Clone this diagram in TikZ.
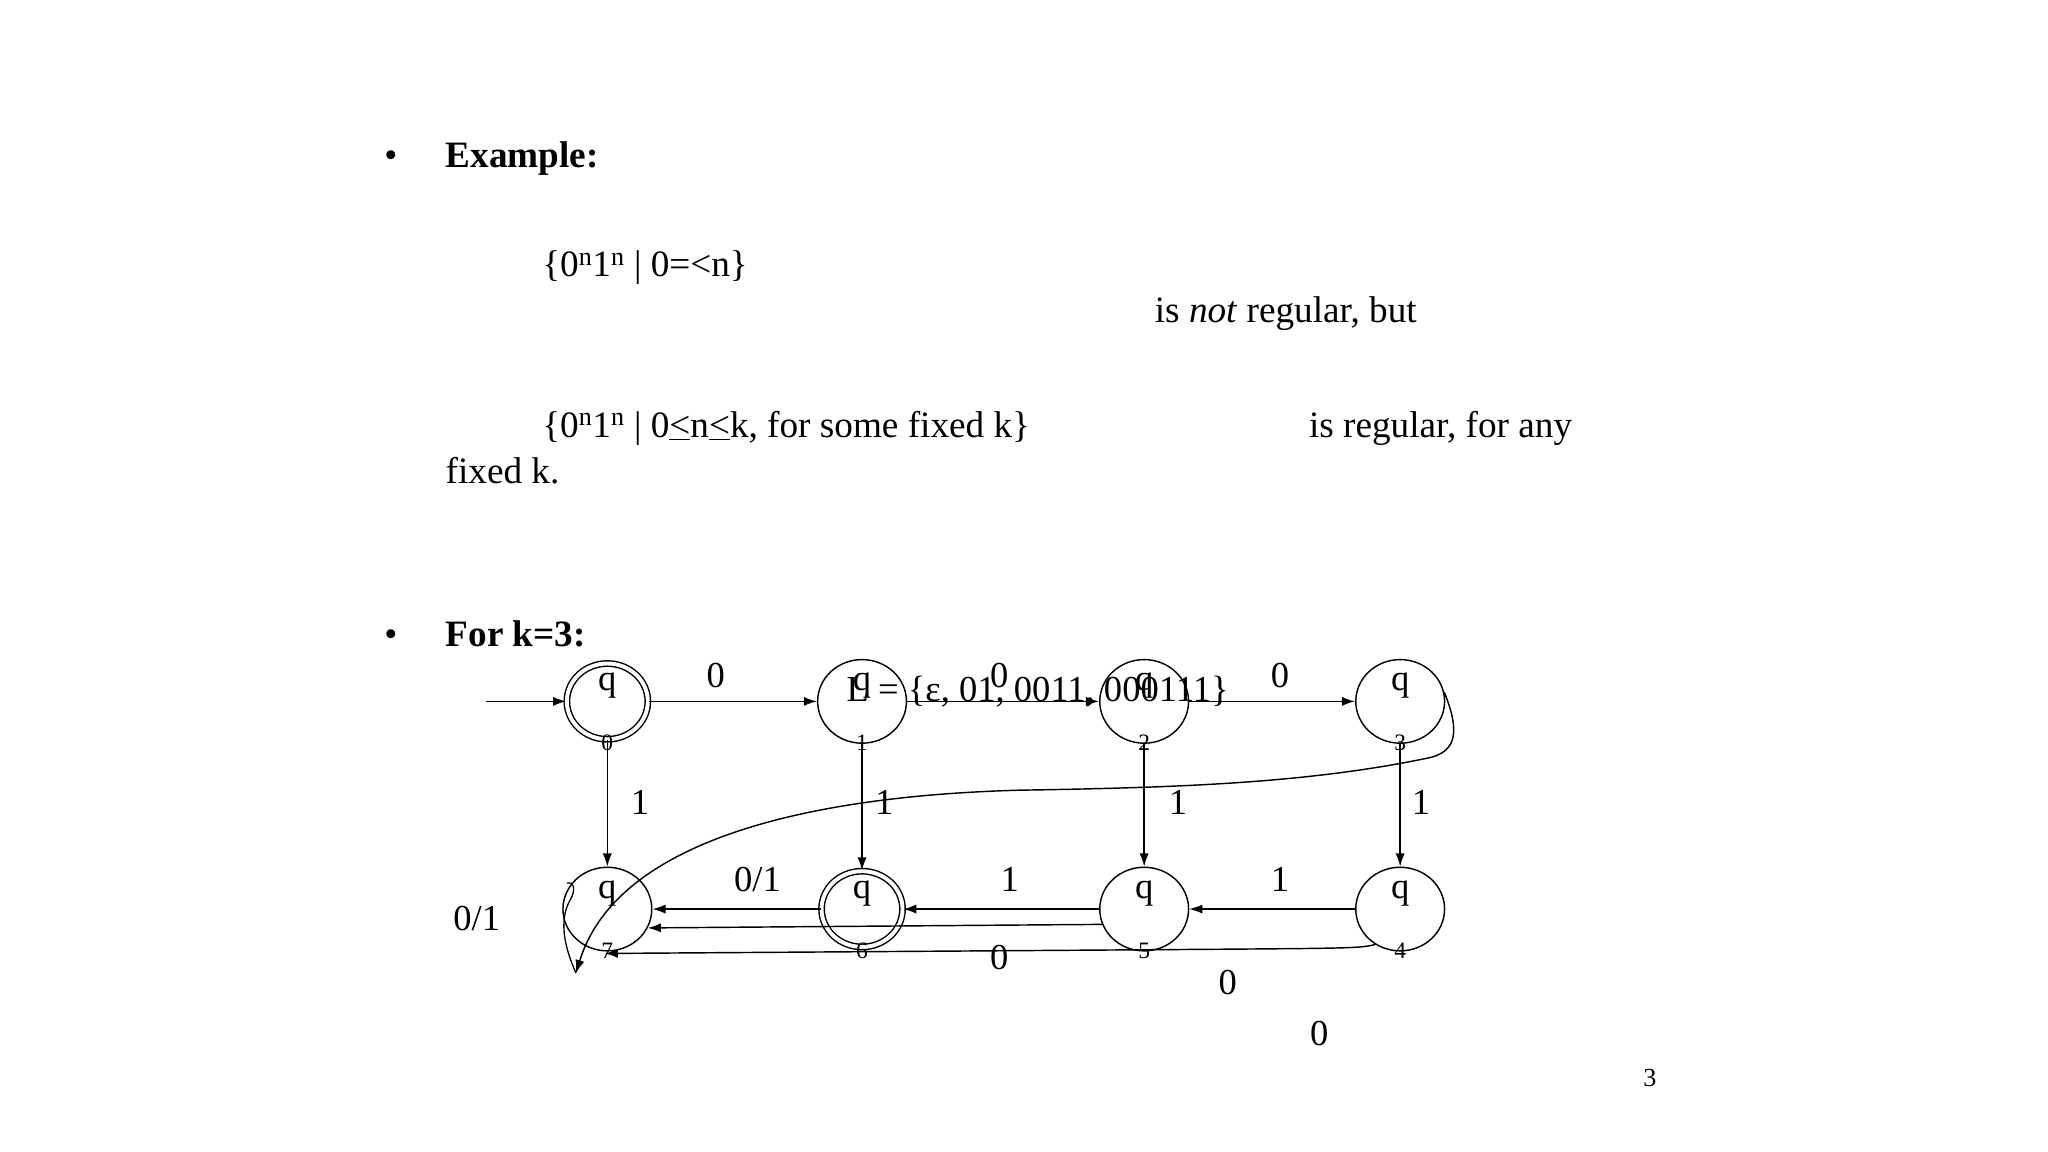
\documentclass[tikz,border=0pt]{standalone}
\usepackage{fontspec}
\setmainfont{Liberation Serif}
\usetikzlibrary{arrows.meta,shapes.geometric}
\begin{document}
\begin{tikzpicture}[x=1pt,y=-1pt,
  txt/.style={anchor=base west,inner sep=0,font=\fontsize{28.5}{33}\selectfont},
  lab/.style={inner sep=0,font=\fontsize{28}{32}\selectfont},
  st/.style={draw,line width=1.1pt,ellipse,minimum width=68pt,minimum height=64pt,inner sep=0},
  acc/.style={st,double,double distance=3pt,minimum width=62pt,minimum height=58pt},
  ql/.style={inner sep=0,font=\fontsize{28}{32}\selectfont},
  qs/.style={inner sep=0,font=\fontsize{18}{20}\selectfont},
  ed/.style={line width=1.1pt,-{Latex[length=10pt,width=7pt]}}]
\useasboundingbox (0,0) rectangle (1568,882);
% text
\node[txt] (b1) at (294,128) {•};
\node[txt] (t1) at (341,128) {\bfseries Example:};
\node[txt] (t2) at (415,212) {\{0\textsuperscript{n}1\textsuperscript{n} | 0=<n\}};
\node[txt] (t3) at (884,247) {is \textit{not} regular, but};
\node[txt] (t4) at (415,335) {\{0\textsuperscript{n}1\textsuperscript{n} | 0\underline{<}n\underline{<}k, for some fixed k\}};
\node[txt] (t5) at (1002,335) {is regular, for any};
\node[txt] (t6) at (341,370) {fixed k.};
\node[txt] (b2) at (294,495) {•};
\node[txt] (t7) at (341,495) {\bfseries For k=3:};
\node[txt] (pg) at (1258,832) {\fontsize{20}{24}\selectfont 3};
% states
\node[acc] (q0) at (465,537) {};
\node[st] (q1) at (660,537) {};
\node[st] (q2) at (876,537) {};
\node[st] (q3) at (1072,537) {};
\node[st] (q7) at (465,696) {};
\node[acc] (q6) at (660,696) {};
\node[st] (q5) at (876,696) {};
\node[st] (q4) at (1072,696) {};
\foreach \n/\d in {q0/0,q1/1,q2/2,q3/3,q7/7,q6/6,q5/5,q4/4}{
  \node[ql] at ([yshift=12pt]\n.center) {q};
  \node[qs] at ([yshift=-32pt]\n.center) {\d};
}
\node[lab,anchor=base west] (L) at (648,537) {L = \{ε, 01, 0011, 000111\}};
% edges
\coordinate (s) at (372,537);
\draw[ed] (s) -- (q0);
\draw[ed] (q0) -- (q1);
\draw[ed] (q1) -- (q2);
\draw[ed] (q2) -- (q3);
\draw[ed] (q0) -- (q7);
\draw[ed] (q1) -- (q6);
\draw[ed] (q2) -- (q5);
\draw[ed] (q3) -- (q4);
\draw[ed] (q6) -- (q7);
\draw[ed] (q5) -- (q6);
\draw[ed] (q4) -- (q5);
\draw[ed] (q5.200) -- (q7.-25);
\draw[ed] (q4.235) .. controls (1040,726) .. (900,727) -- (463,730);
\draw[ed] (q3.12) .. controls (1118,560) and (1115,575) .. (1095,580)
  .. controls (1000,600) and (900,603) .. (780,605)
  .. controls (600,610) and (470,650) .. (441,745);
\draw[line width=1pt] (441,745) .. controls (432,725) and (428,705) .. (436,690) .. controls (441,682) and (440,675) .. (434,676);
% labels
\node[lab] at (548,517) {0};
\node[lab] at (765,517) {0};
\node[lab] at (980,517) {0};
\node[lab] at (490,614) {1};
\node[lab] at (677,614) {1};
\node[lab] at (902,614) {1};
\node[lab] at (1088,614) {1};
\node[lab] at (580,673) {0/1};
\node[lab] at (773,673) {1};
\node[lab] at (980,673) {1};
\node[lab] at (365,703) {0/1};
\node[lab] at (765,733) {0};
\node[lab] at (940,752) {0};
\node[lab] at (1010,791) {0};
\end{tikzpicture}
\end{document}
